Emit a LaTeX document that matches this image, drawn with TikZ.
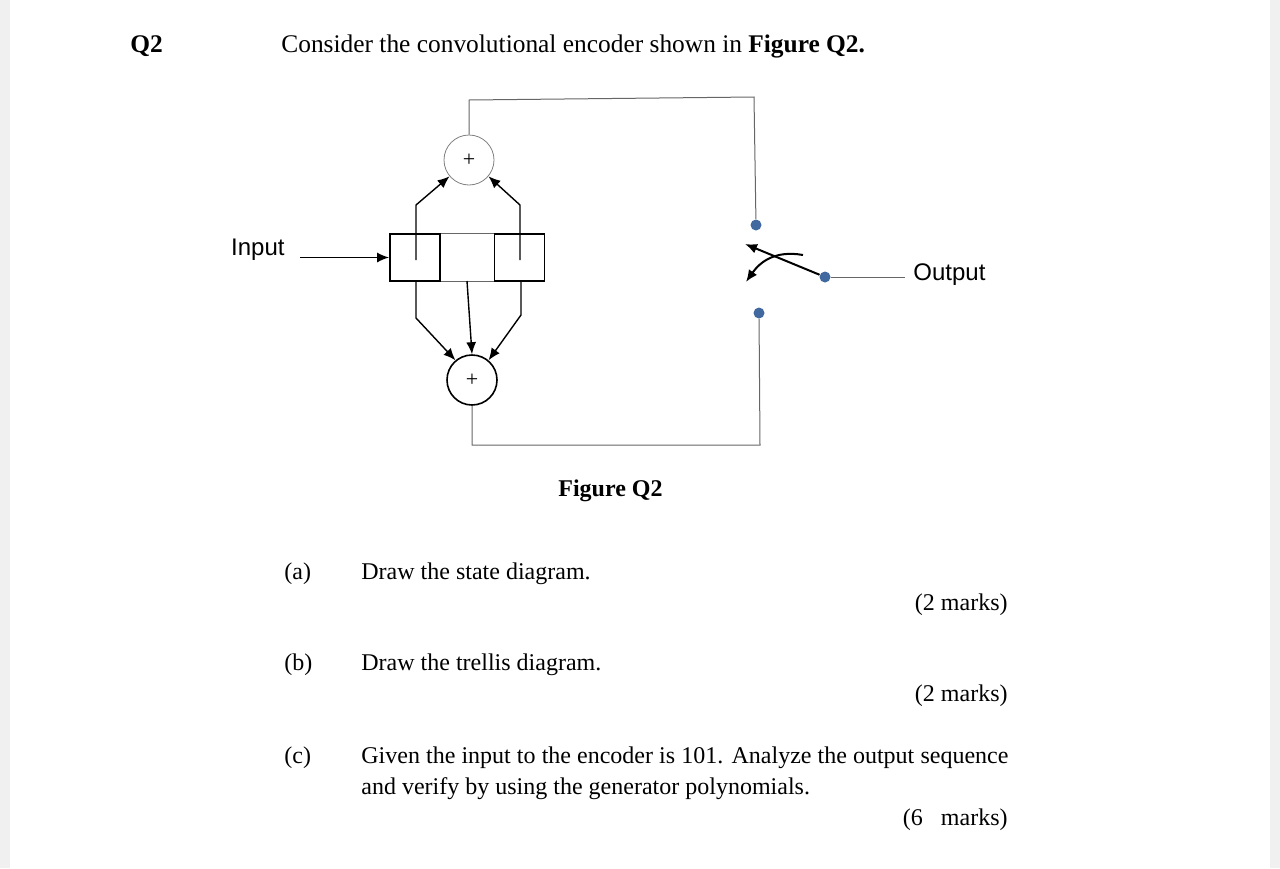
\documentclass[tikz,border=0pt]{standalone}
\usepackage{fontspec}
\setmainfont{Liberation Serif}
\newfontfamily\arialf{Liberation Sans}
\usetikzlibrary{arrows.meta}
\definecolor{dotblue}{RGB}{65,105,160}
\begin{document}
\begin{tikzpicture}[x=0.5pt,y=-0.5pt,
  txt/.style={font=\fontsize{12}{15.5}\selectfont,anchor=base west,inner sep=0},
  ttl/.style={font=\fontsize{12.7}{15.5}\selectfont,anchor=base west,inner sep=0},
  sans/.style={font=\arialf\fontsize{12}{14}\selectfont,inner sep=0},
  wire/.style={line width=0.7pt},
  thinw/.style={line width=0.5pt,gray!80!black},
  arr/.style={wire,-{Latex[length=6pt,width=5pt]}},
  adder/.style={circle,draw,minimum size=25pt,inner sep=0,font=\fontsize{11}{11}\selectfont},
  reg/.style={draw,line width=0.9pt,minimum width=25pt,minimum height=23.5pt,inner sep=0},
  bdot/.style={circle,fill=dotblue,minimum size=5.5pt,inner sep=0}]
\useasboundingbox (0,0) rectangle (1280,868);
\fill[gray!12] (0,0) rectangle (10,868);
\fill[gray!12] (1270,0) rectangle (1280,868);
% texts
\node[ttl,font=\bfseries\fontsize{12.7}{15}\selectfont] (q) at (130,52) {Q2};
\node[ttl] (t1) at (281,52) {Consider the convolutional encoder shown in \textbf{Figure Q2.}};
\node[txt,font=\bfseries\fontsize{12}{15}\selectfont] (cap) at (558,496) {Figure Q2};
\node[txt] (a) at (284,579) {(a)};
\node[txt] (at) at (361,579) {Draw the state diagram.};
\node[txt,anchor=base east] (am) at (1008,610) {(2 marks)};
\node[txt] (b) at (284,670) {(b)};
\node[txt] (bt) at (361,670) {Draw the trellis diagram.};
\node[txt,anchor=base east] (bm) at (1008,701) {(2 marks)};
\node[txt] (c) at (284,763) {(c)};
\node[txt,text width=323.5pt,align=justify] (ct) at (361,763) {Given the input to the encoder is 101. Analyze the output sequence\linebreak and verify by using the generator polynomials.};
\node[txt,anchor=base east] (cm) at (1008,825) {(6\ \ \ marks)};
% circuit
\node[adder,draw=gray] (top) at (469,160) {+};
\node[adder,line width=0.8pt] (bot) at (472,380) {+};
\node[reg] (r1) at (415,257.5) {};
\node[reg] (r2) at (519.5,257.5) {};
\draw[thinw] (r1.north east) -- (r2.north west) (r1.south east) -- (r2.south west);
\coordinate (r2mid) at (467,281);
\coordinate (instart) at (300,257.5);
\node[sans,anchor=base east] (inp) at (285,255) {Input};
\draw[arr] (instart) -- (r1.west);
\draw[arr] (416,260) -- (416,205) -- (top.220);
\draw[arr] (520,260) -- (520,205) -- (top.320);
\draw[arr] (416,281) -- (416,318) -- (bot.130);
\draw[arr] (r2mid) -- (bot.north);
\draw[arr] (521,281) -- (521,315) -- (bot.50);
\node[bdot] (d1) at (756,225) {};
\node[bdot] (d2) at (759,313) {};
\node[bdot] (d3) at (825,277) {};
\node[sans,anchor=west] (out) at (913,275) {Output};
\draw[thinw] (top.north) -- (469,100) -- (754,97) -- (d1);
\draw[thinw] (bot.south) -- (472,445) -- (760,445) -- (d2);
\draw[thinw] (d3) -- (905,277);
\draw[arr,line width=1pt] (d3) -- (745,244);
\draw[arr,line width=1pt] (803,255) .. controls (775,250) and (760,262) .. (746,282);
\end{tikzpicture}
\end{document}
